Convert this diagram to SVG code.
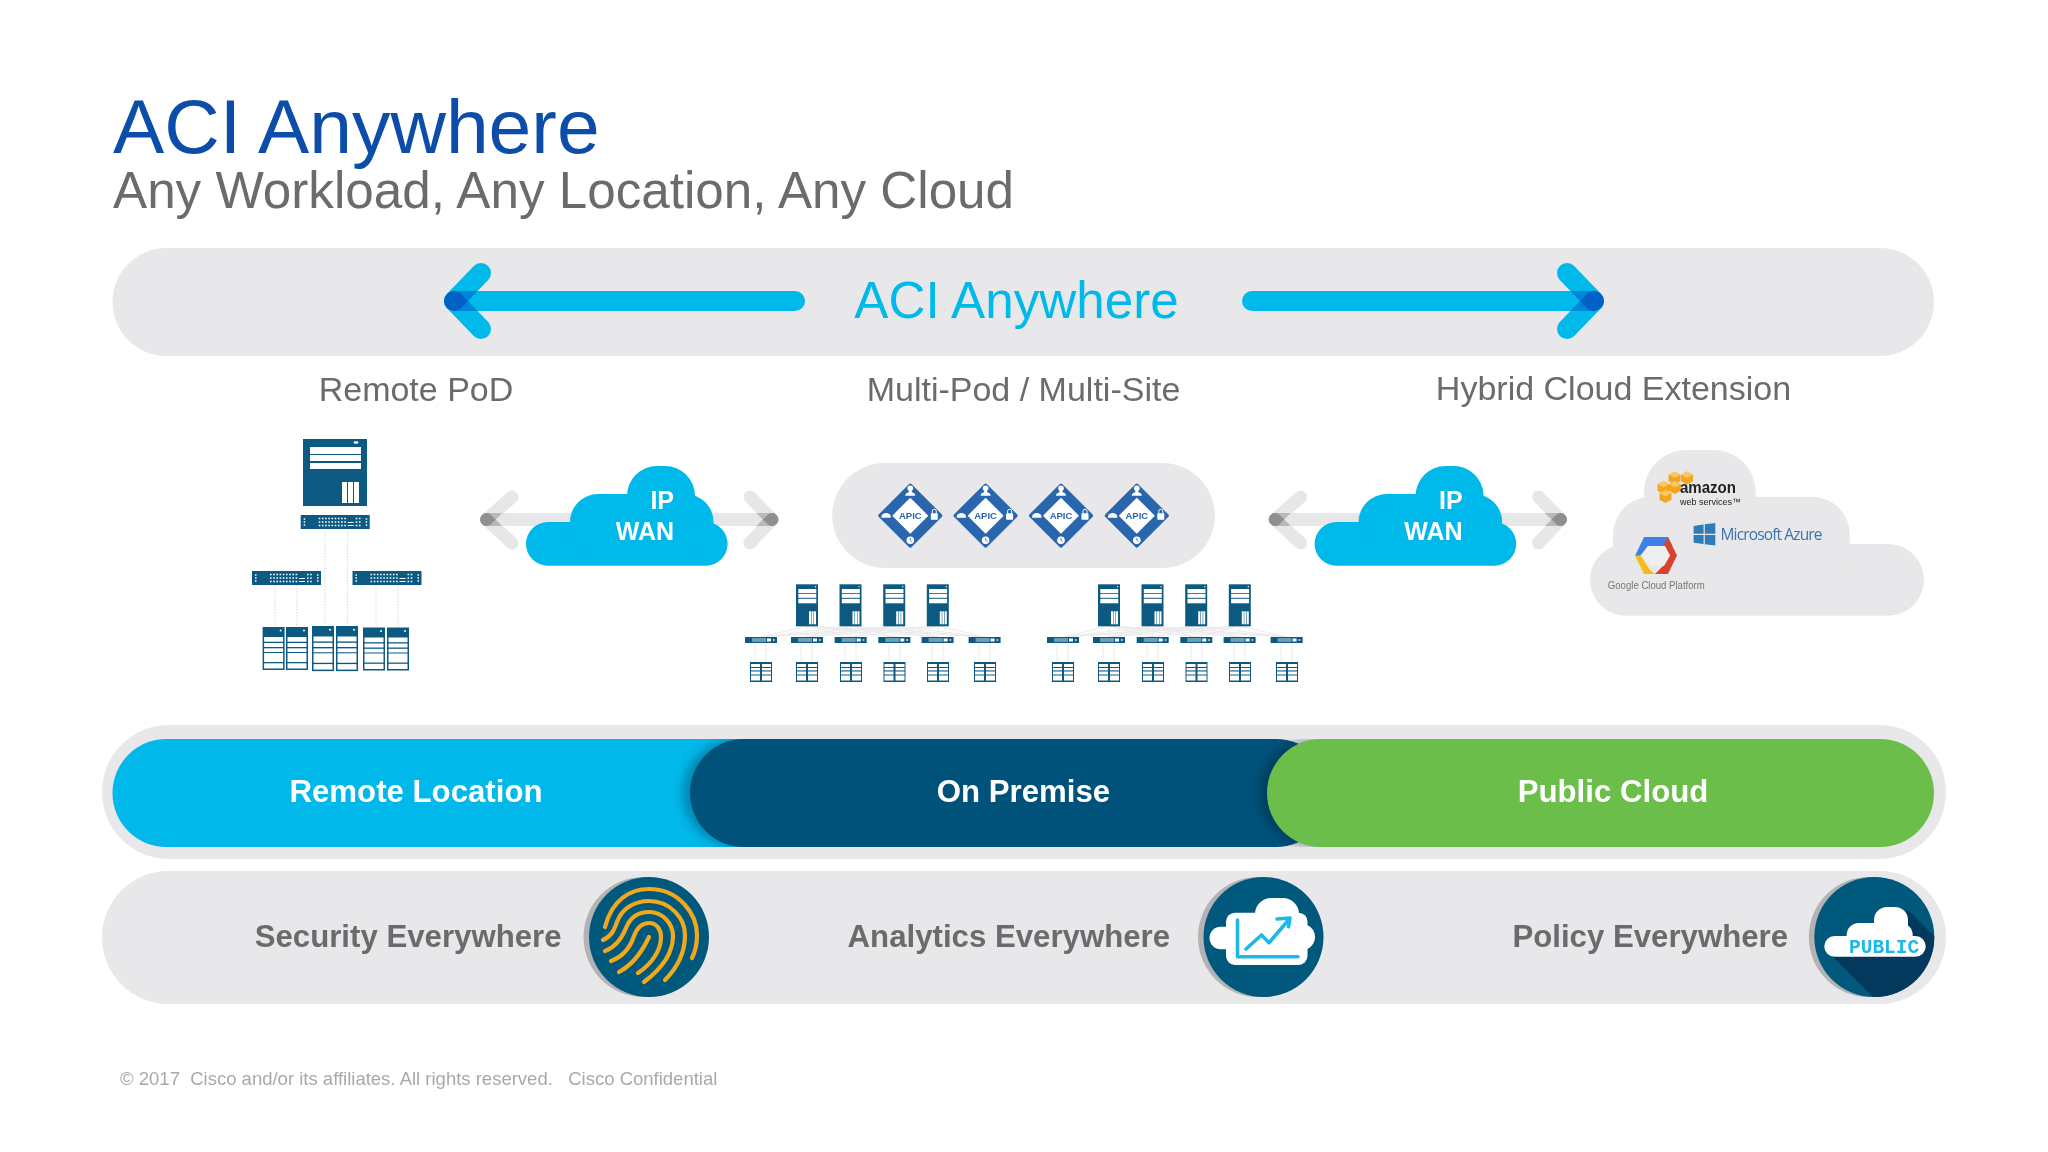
<svg xmlns="http://www.w3.org/2000/svg" width="2048" height="1152" viewBox="0 0 2048 1152">
<style>
text{font-family:"Liberation Sans",Arial,sans-serif}
.lab{font-size:34px;fill:#6b6b6d;text-anchor:middle}
.bar{font-size:31.200px;font-weight:700;fill:#fff;text-anchor:middle}
.every{font-size:31.200px;font-weight:700;fill:#6b6b6d}
.wan{font-size:25px;font-weight:700;fill:#fff;text-anchor:end}
.apic{font-size:9.500px;font-weight:700;fill:#2a66ae;text-anchor:middle}
.grey{fill:#e8e8ea}
.dk{fill:#0c5a82}
.w{fill:#fff}
.cy{fill:none;stroke:#00b9eb;stroke-width:20;stroke-linecap:round;stroke-linejoin:round;mix-blend-mode:multiply}
.gl{fill:none;stroke:#e7e7e9;stroke-width:13;stroke-linecap:round}
.fp{fill:none;stroke:#f2a81d;stroke-width:4.200;stroke-linecap:round;stroke-linejoin:round}
.dot{fill:none;stroke:#d8d8db;stroke-width:1;stroke-dasharray:1.500 1.500}
.faint{fill:none;stroke:#ebebed;stroke-width:1}
.port{fill:none;stroke:#fff;stroke-width:1.400;stroke-dasharray:1.600 1.600}
</style>
<defs>
<filter id="soft" x="-10%" y="-10%" width="120%" height="120%"><feGaussianBlur stdDeviation="4"/></filter>
<clipPath id="c3"><circle cx="1874.3" cy="937" r="60"/></clipPath>
<clipPath id="pill"><rect x="112.500" y="739" width="1821.500" height="108" rx="54"/></clipPath>
<g id="cloud">
<rect x="526" y="522" width="201.600" height="43.700" rx="21.800" fill="#00b9eb"/>
<rect x="570" y="494" width="143.500" height="60" rx="28" fill="#00b9eb"/>
<rect x="627" y="466" width="68" height="70" rx="30" fill="#00b9eb"/>
</g>
<g id="garrow">
<path class="gl" d="M486.500 519.500H772M512 497L486.500 519.500L512 543M750 497L772 519.500L750 543" stroke-linejoin="round"/>
<path fill="#b9b9bb" d="M483.800 513H502.200L495.700 519.500L502.200 526H483.800Z"/>
<path fill="#8f8f91" d="M491.100 514.900L495.700 519.500L491.100 524.100A6.500 6.500 0 1 1 491.100 514.900Z"/>
<path fill="#b9b9bb" d="M774.700 513H756.300L762.800 519.500L756.300 526H774.700Z"/>
<path fill="#8f8f91" d="M767.400 514.900L762.800 519.500L767.400 524.100A6.500 6.500 0 1 0 767.400 514.900Z"/>
</g>
<g id="rack">
<rect width="22" height="43" class="dk"/>
<g class="w"><rect x="1.500" y="10" width="19" height="4.700"/><rect x="1.500" y="16" width="19" height="4"/><rect x="1.500" y="21.300" width="19" height="3.700"/><rect x="1.500" y="26" width="19" height="9"/><rect x="1.500" y="36.300" width="19" height="5.200"/><circle cx="18" cy="3.500" r="1"/></g>
</g>
<g id="sw">
<rect width="69" height="14" class="dk"/>
<path class="port" d="M18 3.500H46M18 7H46M18 10.500H46M3 4H4.500M3 7H4.500M3 10H4.500M55 3.500H60M55 7H60M55 10.500H60M65 4H66.500M65 7H66.500M65 10H66.500"/>
<path stroke="#fff" stroke-width="1.200" d="M47 7.500H53M47 10.500H53"/>
</g>
<g id="srv">
<rect width="22" height="42" class="dk"/>
<g class="w"><rect x="2.300" y="4.700" width="18" height="4"/><rect x="2.300" y="9.500" width="18" height="4"/><rect x="2.300" y="14.500" width="18" height="4.500"/><rect x="13" y="27" width="2" height="13"/><rect x="15.500" y="27" width="2" height="13"/><rect x="18" y="27" width="2" height="13"/><circle cx="19.500" cy="2.500" r=".7"/></g>
</g>
<g id="ssw">
<rect width="32" height="6" class="dk"/>
<rect x="7" y="1" width="14" height="4" fill="#6d9cb5"/>
<rect x="22" y="1.500" width="4" height="3" fill="#fff"/>
<path class="port" stroke-width="1" d="M28 3H31"/>
</g>
<g id="srk">
<rect width="22" height="20" class="dk"/>
<g class="w"><rect x="1" y="2" width="9" height="3"/><rect x="12" y="2" width="9" height="3"/><rect x="1" y="6" width="9" height="2.400"/><rect x="12" y="6" width="9" height="2.400"/><rect x="1" y="9.500" width="9" height="3"/><rect x="12" y="9.500" width="9" height="3"/><rect x="1" y="13.500" width="9" height="5"/><rect x="12" y="13.500" width="9" height="5"/></g>
</g>
<g id="pod">
<path class="faint" d="M807 626L761 637M807 626L807 637M807 626L851 637M807 626L894 637M807 626L938 637M807 626L985 637M851 626L761 637M851 626L807 637M851 626L851 637M851 626L894 637M851 626L938 637M851 626L985 637M894 626L761 637M894 626L807 637M894 626L851 637M894 626L894 637M894 626L938 637M894 626L985 637M938 626L761 637M938 626L807 637M938 626L851 637M938 626L894 637M938 626L938 637M938 626L985 637"/>
<path class="faint" d="M755 643V662M766 643V662M801 643V662M812 643V662M845 643V662M856 643V662M889 643V662M900 643V662M932 643V662M943 643V662M979 643V662M990 643V662"/>
<use href="#srv" x="796" y="584.300"/><use href="#srv" x="839.500" y="584.300"/><use href="#srv" x="883.200" y="584.300"/><use href="#srv" x="926.800" y="584.300"/>
<use href="#ssw" x="745" y="637"/><use href="#ssw" x="791" y="637"/><use href="#ssw" x="834.700" y="637"/><use href="#ssw" x="878.300" y="637"/><use href="#ssw" x="921.600" y="637"/><use href="#ssw" x="968.600" y="637"/>
<use href="#srk" x="750" y="662"/><use href="#srk" x="796" y="662"/><use href="#srk" x="840" y="662"/><use href="#srk" x="883.500" y="662"/><use href="#srk" x="927" y="662"/><use href="#srk" x="974" y="662"/>
</g>
<g id="apic">
<path d="M0 -30L30 0L0 30L-30 0Z" fill="#2a66ae" stroke="#2a66ae" stroke-width="4" stroke-linejoin="round"/>
<path d="M0 -17L17 0L0 17L-17 0Z" fill="#fff" stroke="#fff" stroke-width="1.500" stroke-linejoin="round"/>
<text class="apic" y="3.400">APIC</text>
<g class="w">
<circle cy="-27.500" r="2.800"/><path d="M-5 -20Q-5 -23 -1.500 -23.500V-25H1.500V-23.500Q5 -23 5 -20Z"/>
<path d="M-29 2A4.800 4.800 0 0 1 -19.400 2Z"/>
<rect x="20.500" y="-2.500" width="7" height="6.500" rx=".8"/><path d="M22 -2.500V-4.500A2 2 0 0 1 26 -4.500V-2.500" fill="none" stroke="#fff" stroke-width="1"/>
<circle cy="24.500" r="3.800"/>
</g>
<path d="M0 22.500V24.500L1.500 26" fill="none" stroke="#2a66ae" stroke-width=".9"/>
</g>
<g id="cube"><path d="M0 -6.500L6 -3.300V3.300L0 6.500L-6 3.300V-3.300Z" fill="#f2a61f"/><path d="M0 -6.500L6 -3.300L0 -.2L-6 -3.300Z" fill="#f9c863"/></g>
</defs>
<rect width="2048" height="1152" fill="#fff"/>

<g id="title">
<text x="113" y="152.500" font-size="76.800" fill="#0b4da8">ACI Anywhere</text>
<text x="113" y="208" font-size="51.200" fill="#6b6b6d">Any Workload, Any Location, Any Cloud</text>
</g>

<g id="top-bar">
<rect x="112.500" y="248" width="1821.500" height="108" rx="54" class="grey"/>
<text x="1016.500" y="318" font-size="51.200" text-anchor="middle" fill="#00b9eb">ACI Anywhere</text>
</g>
<g id="top-arrows" style="isolation:isolate">
<path class="cy" d="M454 301H795"/><path class="cy" d="M481 273L454 301"/><path class="cy" d="M454 301L481 329"/>
<path class="cy" d="M1252 301H1594"/><path class="cy" d="M1567 273L1594 301"/><path class="cy" d="M1594 301L1567 329"/>
</g>

<g id="labels">
<text class="lab" x="416" y="401">Remote PoD</text>
<text class="lab" x="1023.500" y="401">Multi-Pod / Multi-Site</text>
<text class="lab" x="1613.500" y="400">Hybrid Cloud Extension</text>
</g>

<g id="connectors">
<use href="#garrow"/>
<use href="#garrow" x="788.600"/>
<path class="dot" d="M325 532V623M347.600 532V623M275 585V626M297 585V626M376 586V627M398 586V627"/>
</g>

<g id="remote-pod">
<g id="big-server">
<rect x="303" y="439" width="64" height="67" class="dk"/>
<g class="w"><rect x="310" y="447" width="51" height="7"/><rect x="310" y="455" width="51" height="6"/><rect x="310" y="463" width="51" height="6"/><rect x="342" y="482" width="5" height="21"/><rect x="348" y="482" width="5" height="21"/><rect x="354" y="482" width="5" height="21"/><ellipse cx="356" cy="442.500" rx="2.500" ry="1.200"/></g>
</g>
<use href="#sw" x="300.700" y="515"/>
<use href="#sw" x="252" y="571"/>
<use href="#sw" x="352.500" y="571"/>
<use href="#rack" x="262.600" y="627"/><use href="#rack" x="286" y="627"/>
<use href="#rack" transform="translate(312 626) scale(1 1.050)"/><use href="#rack" transform="translate(336 626) scale(1 1.050)"/>
<use href="#rack" x="363" y="627.500"/><use href="#rack" x="387" y="627.500"/>
</g>

<g id="ip-wan-1">
<use href="#cloud"/>
<text class="wan" x="674" y="509">IP</text>
<text class="wan" x="674" y="540">WAN</text>
</g>
<g id="ip-wan-2" transform="translate(788.600 0)">
<use href="#cloud"/>
<text class="wan" x="674" y="509">IP</text>
<text class="wan" x="674" y="540">WAN</text>
</g>

<g id="apic-cluster">
<rect x="832.200" y="463" width="382.700" height="105" rx="52.500" class="grey"/>
<use href="#apic" x="910.300" y="515.700"/>
<use href="#apic" x="985.600" y="515.700"/>
<use href="#apic" x="1061" y="515.700"/>
<use href="#apic" x="1136.800" y="515.700"/>
</g>
<g id="pod-left"><use href="#pod"/></g>
<g id="pod-right"><use href="#pod" x="302"/></g>

<g id="public-clouds">
<rect x="1590" y="544" width="334" height="71.700" rx="35.800" class="grey"/>
<rect x="1613" y="496.700" width="236.800" height="90" rx="38" class="grey"/>
<rect x="1644" y="450" width="111.700" height="90" rx="42" class="grey"/>
<g id="aws">
<use href="#cube" x="1674.500" y="478"/><use href="#cube" x="1687" y="478"/><use href="#cube" x="1663.500" y="487.500"/><use href="#cube" x="1675" y="487.500"/><use href="#cube" x="1665.500" y="496.500"/>
<text x="1680" y="492.500" font-size="16" font-weight="700" fill="#222" textLength="56" lengthAdjust="spacingAndGlyphs">amazon</text>
<text x="1680" y="504.500" font-size="9" fill="#222" textLength="61" lengthAdjust="spacingAndGlyphs">web services™</text>
</g>
<g id="azure">
<path fill="#2f7cba" d="M1693.600 526L1703.600 524.500V533.700H1693.600ZM1704.800 524.300L1715.300 523V533.700H1704.800ZM1693.600 534.900H1703.600V544L1693.600 542.700ZM1704.800 534.900H1715.300V545.500L1704.800 544.200Z"/>
<text x="1720.500" y="540" font-size="15.500" fill="#3b74ac" style="font-family:'Open Sans',sans-serif" textLength="102">Microsoft Azure</text>
</g>
<g id="gcp">
<path fill="#3f80e8" d="M1644 537H1668L1672.500 546H1648L1640 556H1635Z"/>
<path fill="#f4bb1a" d="M1635 555.500H1640.500L1650 570L1655 574H1644Z"/>
<path fill="#d8432f" d="M1668 537L1677 555.500L1668 574H1655L1663 566L1670 555.500L1664 544Z"/>
<path fill="#efeff0" d="M1648 546H1664L1670 555.500L1664 566H1650L1642 555.500Z"/>
<text x="1607.800" y="589" font-size="10.500" fill="#777" textLength="97" lengthAdjust="spacingAndGlyphs">Google Cloud Platform</text>
</g>
</g>

<g id="location-bar">
<rect x="102" y="725" width="1844" height="134" rx="67" class="grey"/>
<rect x="112.500" y="739" width="800" height="108" rx="54" fill="#00b8e9"/>
<g clip-path="url(#pill)"><rect x="682" y="739" width="200" height="108" rx="54" fill="#003a5c" opacity=".35" filter="url(#soft)"/></g>
<rect x="690" y="739" width="640" height="108" rx="54" fill="#00527a"/>
<g clip-path="url(#pill)"><rect x="1259" y="739" width="200" height="108" rx="54" fill="#001f33" opacity=".35" filter="url(#soft)"/></g>
<rect x="1267" y="739" width="667" height="108" rx="54" fill="#6cbe4b"/>
<text class="bar" x="416" y="802">Remote Location</text>
<text class="bar" x="1023.500" y="802">On Premise</text>
<text class="bar" x="1613" y="802">Public Cloud</text>
</g>

<g id="everywhere-bar">
<rect x="102" y="871" width="1844" height="133" rx="66.500" class="grey"/>
<text class="every" x="254.700" y="947">Security Everywhere</text>
<text class="every" x="847.600" y="947">Analytics Everywhere</text>
<text class="every" x="1512.400" y="947">Policy Everywhere</text>
</g>

<g id="security-icon">
<circle cx="643.500" cy="937" r="60" fill="#b3b3b5"/>
<circle cx="649" cy="937" r="60" fill="#00587c"/>
<g class="fp">
<path d="M605 927C612 900 630 889 649 889C680 889 697 915 697 935C697 945 695 952 692 958"/>
<path d="M603 940C612 936 614 930 617 922C622 908 635 901 649 901C670 901 685 918 685 935C685 955 675 970 665 980"/>
<path d="M605 951C616 947 622 938 626 928C630 918 638 912 649 912C663 912 673 924 673 936C673 955 660 970 644 982"/>
<path d="M611 961C622 957 630 948 634 936C637 928 642 923 649 923C657 923 661 930 661 937C661 952 650 965 638 973"/>
<path d="M619 972C632 965 642 952 649 937"/>
</g>
</g>

<g id="analytics-icon">
<circle cx="1258" cy="937" r="60" fill="#b3b3b5"/>
<circle cx="1263.500" cy="937" r="60" fill="#00587c"/>
<g class="w">
<rect x="1226" y="912.700" width="81.500" height="52.300" rx="9"/>
<rect x="1255" y="898" width="44" height="40" rx="16"/>
<rect x="1209.500" y="926.700" width="40" height="22.600" rx="11.300"/>
<rect x="1285" y="924" width="30" height="26" rx="13"/>
</g>
<path d="M1237.500 920V956.700H1298" fill="none" stroke="#1cb8e8" stroke-width="3.600" stroke-linecap="round" stroke-linejoin="round"/>
<path d="M1246 949L1261.500 935L1269 942.700L1288.600 920M1277 919L1290 918L1288.600 926.700" fill="none" stroke="#1cb8e8" stroke-width="3.600" stroke-linecap="round" stroke-linejoin="round"/>
</g>

<g id="policy-icon">
<circle cx="1868.800" cy="937" r="60" fill="#b3b3b5"/>
<circle cx="1874.300" cy="937" r="60" fill="#00587c"/>
<path clip-path="url(#c3)" d="M1826 950L1908 910L1945 947V1010H1886Z" fill="#04395e"/>
<g class="w">
<rect x="1824.300" y="936" width="101.400" height="20.700" rx="10.300"/>
<rect x="1846.700" y="923" width="66" height="30" rx="12"/>
<rect x="1874" y="907" width="34" height="30" rx="13"/>
</g>
<text x="1849" y="953" font-size="19.500" font-weight="700" fill="#1cb8e8" style="font-family:'Liberation Mono',monospace">PUBLIC</text>
</g>

<text id="footer" x="120" y="1085" font-size="18.500" fill="#a9a9ab" style="white-space:pre">© 2017  Cisco and/or its affiliates. All rights reserved.   Cisco Confidential</text>
</svg>
